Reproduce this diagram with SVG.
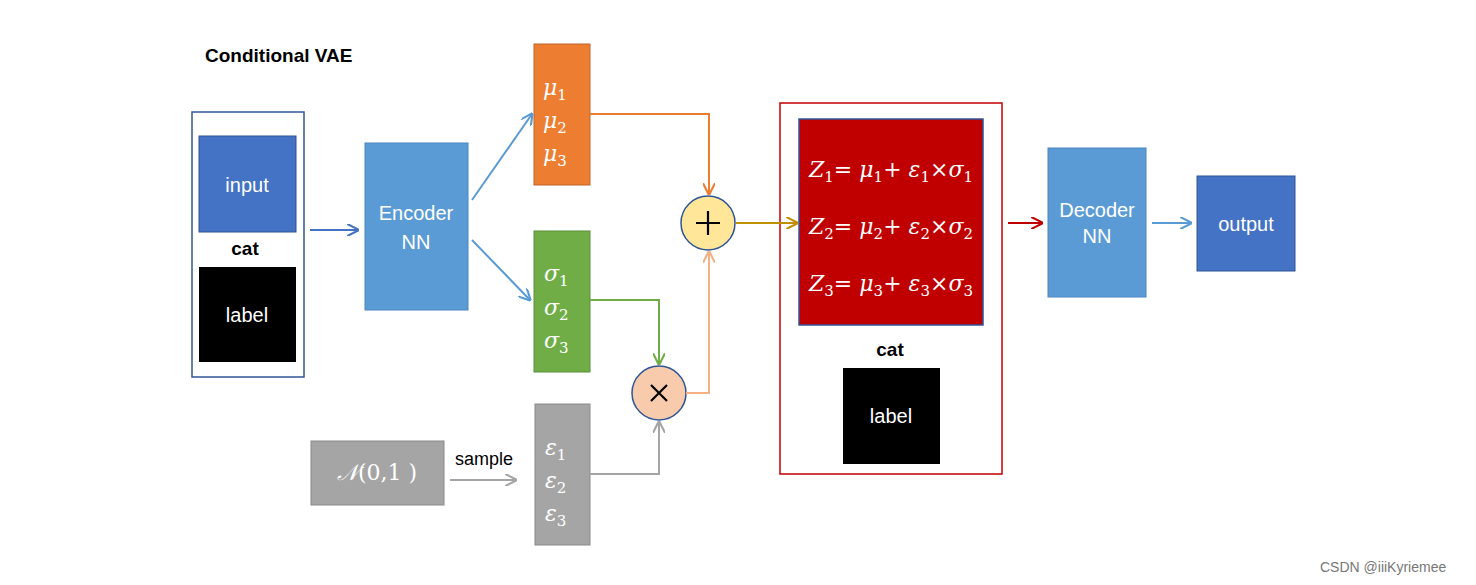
<svg xmlns="http://www.w3.org/2000/svg" width="1476" height="585" viewBox="0 0 1476 585">
<defs>
<style>
.t{font-family:"Liberation Sans",Arial,sans-serif;fill:#fff;font-size:20px;text-anchor:middle}
.b{font-family:"Liberation Sans",Arial,sans-serif;font-weight:bold;fill:#000;font-size:19px}
.m{font-family:"DejaVu Serif","Liberation Serif",serif;font-style:italic;fill:#fff;font-size:22px}
.s{font-style:normal;font-size:15px}
.n{font-style:normal}
.ln{fill:none;stroke-width:2}
</style>
<marker id="a" viewBox="0 0 10 10" refX="9" refY="5" markerWidth="6" markerHeight="6" orient="auto"><path d="M0,0 L10,5 L0,10" fill="none" stroke="context-stroke" stroke-width="1.8"/></marker>
</defs>
<rect width="1476" height="585" fill="#fff"/>
<text class="b" x="205" y="62">Conditional VAE</text>
<g id="inputgroup">
<rect x="192" y="112" width="112" height="265" fill="none" stroke="#2F5597" stroke-width="1.5"/>
<rect x="199" y="136" width="97" height="96" fill="#4472C4" stroke="#2F5597"/>
<text class="t" x="247" y="192">input</text>
<text class="b" x="245" y="255" text-anchor="middle">cat</text>
<rect x="199" y="267" width="97" height="95" fill="#000"/>
<text class="t" x="247" y="322">label</text>
</g>
<g id="encoder"><rect x="365" y="143" width="103" height="167" fill="#5B9BD5" stroke="#4A86C0"/>
<text class="t" x="416" y="220">Encoder</text><text class="t" x="416" y="249">NN</text></g>
<g id="mu"><rect x="534" y="44" width="56" height="141" fill="#ED7D31" stroke="#C0652A"/>
<text class="m" x="543" y="95">μ<tspan class="s" dy="5">1</tspan></text>
<text class="m" x="543" y="128">μ<tspan class="s" dy="5">2</tspan></text>
<text class="m" x="543" y="161">μ<tspan class="s" dy="5">3</tspan></text></g>
<g id="sigma"><rect x="534" y="231" width="56" height="141" fill="#70AD47" stroke="#5A8F38"/>
<text class="m" x="544" y="281">σ<tspan class="s" dy="5">1</tspan></text>
<text class="m" x="544" y="315">σ<tspan class="s" dy="5">2</tspan></text>
<text class="m" x="544" y="348">σ<tspan class="s" dy="5">3</tspan></text></g>
<g id="eps"><rect x="535" y="404" width="55" height="141" fill="#A5A5A5" stroke="#8A8A8A"/>
<text class="m" x="545" y="455">ε<tspan class="s" dy="5">1</tspan></text>
<text class="m" x="545" y="488">ε<tspan class="s" dy="5">2</tspan></text>
<text class="m" x="545" y="521">ε<tspan class="s" dy="5">3</tspan></text></g>
<g id="normal"><rect x="311" y="441" width="133" height="64" fill="#A5A5A5" stroke="#8A8A8A"/>
<text class="m" x="377" y="480" text-anchor="middle" font-size="20"><tspan>𝒩</tspan><tspan class="n">(0,1 )</tspan></text></g>
<text x="484" y="465" font-family="Liberation Sans,Arial,sans-serif" font-size="18" text-anchor="middle">sample</text>
<g id="plus"><circle cx="708" cy="223" r="27" fill="#FFE699" stroke="#2F5597" stroke-width="1.5"/>
<path d="M708,211v24M696,223h24" stroke="#000" stroke-width="2.2"/></g>
<g id="times"><circle cx="659" cy="393" r="27" fill="#F8CBAD" stroke="#2F5597" stroke-width="1.5"/>
<path d="M651,385l16,16M667,385l-16,16" stroke="#000" stroke-width="2.2"/></g>
<g id="zgroup">
<rect x="780" y="103" width="222" height="371" fill="none" stroke="#C00000" stroke-width="1.5"/>
<rect x="799" y="119" width="184" height="206" fill="#C00000" stroke="#2F5597" stroke-width="1.5"/>
<text class="m" x="891" y="177" text-anchor="middle" font-size="20">Z<tspan class="s" dy="5">1</tspan><tspan class="n" dy="-5">= </tspan>μ<tspan class="s" dy="5">1</tspan><tspan class="n" dy="-5">+ </tspan>ε<tspan class="s" dy="5">1</tspan><tspan class="n" dy="-5">×</tspan>σ<tspan class="s" dy="5">1</tspan></text>
<text class="m" x="891" y="234" text-anchor="middle" font-size="20">Z<tspan class="s" dy="5">2</tspan><tspan class="n" dy="-5">= </tspan>μ<tspan class="s" dy="5">2</tspan><tspan class="n" dy="-5">+ </tspan>ε<tspan class="s" dy="5">2</tspan><tspan class="n" dy="-5">×</tspan>σ<tspan class="s" dy="5">2</tspan></text>
<text class="m" x="891" y="291" text-anchor="middle" font-size="20">Z<tspan class="s" dy="5">3</tspan><tspan class="n" dy="-5">= </tspan>μ<tspan class="s" dy="5">3</tspan><tspan class="n" dy="-5">+ </tspan>ε<tspan class="s" dy="5">3</tspan><tspan class="n" dy="-5">×</tspan>σ<tspan class="s" dy="5">3</tspan></text>
<text class="b" x="890" y="356" text-anchor="middle">cat</text>
<rect x="843" y="368" width="97" height="96" fill="#000"/>
<text class="t" x="891" y="423">label</text>
</g>
<g id="decoder"><rect x="1048" y="148" width="98" height="149" fill="#5B9BD5" stroke="#4A86C0"/>
<text class="t" x="1097" y="217">Decoder</text><text class="t" x="1097" y="243">NN</text></g>
<g id="output"><rect x="1197" y="176" width="98" height="95" fill="#4472C4" stroke="#2F5597"/>
<text class="t" x="1246" y="231">output</text></g>
<g id="connectors">
<path class="ln" d="M310,230H358" stroke="#4472C4" marker-end="url(#a)"/>
<path class="ln" d="M472,200L532,114" stroke="#5B9BD5" marker-end="url(#a)"/>
<path class="ln" d="M472,240L530,300" stroke="#5B9BD5" marker-end="url(#a)"/>
<path class="ln" d="M590,114H709V194" stroke="#ED7D31" marker-end="url(#a)"/>
<path class="ln" d="M590,300H659V364" stroke="#70AD47" marker-end="url(#a)"/>
<path class="ln" d="M590,474H659V422" stroke="#A5A5A5" marker-end="url(#a)"/>
<path class="ln" d="M686,393H709V252" stroke="#F4B183" marker-end="url(#a)"/>
<path class="ln" d="M450,480H516" stroke="#A5A5A5" marker-end="url(#a)"/>
<path class="ln" d="M736,223H797" stroke="#BF9000" marker-end="url(#a)"/>
<path class="ln" d="M1008,223H1042" stroke="#C00000" marker-end="url(#a)"/>
<path class="ln" d="M1152,223H1191" stroke="#5B9BD5" marker-end="url(#a)"/>
</g>
<text x="1320" y="572" font-family="Liberation Sans,Arial,sans-serif" font-size="14" fill="#777">CSDN @iiiKyriemee</text>
</svg>
